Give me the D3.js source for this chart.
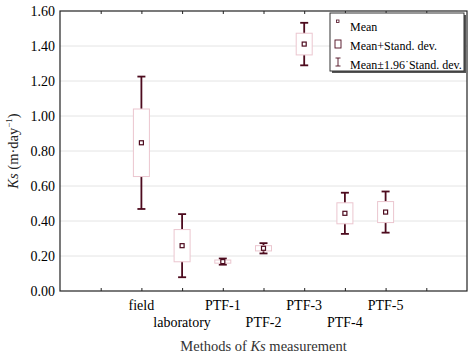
<!DOCTYPE html>
<html><head><meta charset="utf-8">
<script src="https://cdn.jsdelivr.net/npm/d3@7"></script>
<style>
html,body{margin:0;padding:0;background:#fff;}
svg{display:block;}
svg text{font-family:"Liberation Serif","Times New Roman",Times,serif !important;}
</style></head>
<body><svg id="c" width="474" height="358"></svg>
<script>
const categories = ["field","laboratory","PTF-1","PTF-2","PTF-3","PTF-4","PTF-5"];
const means = [0.847, 0.259, 0.168, 0.244, 1.411, 0.444, 0.451];
const sds   = [0.193, 0.092, 0.009, 0.015, 0.062, 0.060, 0.060];
const yTicks = [0,0.2,0.4,0.6,0.8,1.0,1.2,1.4,1.6];
const legendLabels = ["Mean","Mean+Stand. dev.","Mean\u00B11.96\u02D9Stand. dev."];

const W=474,H=358;
const L=60,R=467,T=11,B=291;
const svg=d3.select("#c");
const x=d3.scaleLinear().domain([0,10]).range([L,R]);
const y=d3.scaleLinear().domain([0,1.6]).range([B,T]);
const dark="#4d0b1e", pink="#ebc6cf";

// grid
svg.append("g").selectAll("line").data(yTicks.slice(1,-1)).join("line")
  .attr("x1",L).attr("x2",R).attr("y1",d=>y(d)).attr("y2",d=>y(d))
  .attr("stroke","#e4e4e4").attr("stroke-width",1);

// y axis labels
const ya=svg.append("g").attr("transform",`translate(${L},0)`)
  .call(d3.axisLeft(y).tickValues(yTicks).tickSize(0).tickPadding(5).tickFormat(d3.format(".2f")));
ya.select(".domain").remove();
ya.selectAll("text").attr("font-size",14).attr("fill","#000");

// tick marks top & bottom (inward)
const tickPos=d3.range(1,10);
svg.append("g").attr("transform",`translate(0,${B})`)
  .call(d3.axisBottom(x).tickValues(tickPos).tickSize(-3).tickFormat(""))
  .call(g=>g.select(".domain").remove())
  .selectAll("line").attr("stroke","#222");
svg.append("g").attr("transform",`translate(0,${T})`)
  .call(d3.axisTop(x).tickValues(tickPos).tickSize(-3).tickFormat(""))
  .call(g=>g.select(".domain").remove())
  .selectAll("line").attr("stroke","#222");

// frame
svg.append("rect").attr("x",L).attr("y",T).attr("width",R-L).attr("height",B-T)
  .attr("fill","none").attr("stroke","#222").attr("stroke-width",1.2);

// category labels
svg.append("g").selectAll("text").data(categories).join("text")
  .attr("x",(d,i)=>x(i+2)).attr("y",(d,i)=>i%2===0?310:327)
  .attr("text-anchor","middle").attr("font-size",14).attr("fill","#000").text(d=>d);

// data marks
const boxW=16, capW=8;
const g=svg.append("g");
categories.forEach((c,i)=>{
  const cx=x(i+2), m=means[i], s=sds[i];
  const wl=m-1.96*s, wh=m+1.96*s;
  g.append("line").attr("x1",cx).attr("x2",cx).attr("y1",y(wh)).attr("y2",y(wl))
    .attr("stroke",dark).attr("stroke-width",1.8);
  [wl,wh].forEach(v=>g.append("line").attr("x1",cx-capW/2).attr("x2",cx+capW/2)
    .attr("y1",y(v)).attr("y2",y(v)).attr("stroke",dark).attr("stroke-width",1.8));
  g.append("rect").attr("x",cx-boxW/2).attr("width",boxW)
    .attr("y",y(m+s)).attr("height",Math.max(0,y(m-s)-y(m+s)))
    .attr("fill","#fff").attr("stroke",pink).attr("stroke-width",1);
  g.append("rect").attr("x",cx-2).attr("y",y(m)-2).attr("width",4).attr("height",4)
    .attr("fill","#fff").attr("stroke",dark).attr("stroke-width",1.2);
});

// legend
const lg=svg.append("g");
lg.append("rect").attr("x",332).attr("y",15).attr("width",134).attr("height",58).attr("fill","#555");
lg.append("rect").attr("x",330).attr("y",13).attr("width",134).attr("height",58)
  .attr("fill","#fff").attr("stroke","#333").attr("stroke-width",1);
const rowY=[27,46,65];
lg.selectAll("text").data(legendLabels).join("text")
  .attr("x",350).attr("y",(d,i)=>rowY[i]+4).attr("font-size",12).attr("fill","#000").text(d=>d);
// symbols
lg.append("rect").attr("x",336.5).attr("y",rowY[0]-7).attr("width",2.5).attr("height",2.5)
  .attr("fill","none").attr("stroke",dark).attr("stroke-width",0.8);
lg.append("rect").attr("x",335).attr("y",rowY[1]-6).attr("width",6).attr("height",8)
  .attr("fill","#fff").attr("stroke",dark).attr("stroke-width",0.9);
const ix=338, iy0=rowY[2]-7, iy1=rowY[2]+1;
lg.append("line").attr("x1",ix).attr("x2",ix).attr("y1",iy0).attr("y2",iy1).attr("stroke",dark).attr("stroke-width",0.9);
lg.append("line").attr("x1",ix-2.5).attr("x2",ix+2.5).attr("y1",iy0).attr("y2",iy0).attr("stroke",dark).attr("stroke-width",0.9);
lg.append("line").attr("x1",ix-2.5).attr("x2",ix+2.5).attr("y1",iy1).attr("y2",iy1).attr("stroke",dark).attr("stroke-width",0.9);

// axis titles
const xt=svg.append("text").attr("x",(L+R)/2).attr("y",351).attr("text-anchor","middle")
  .attr("font-size",14.5).attr("fill","#333");
xt.append("tspan").text("Methods of ");
xt.append("tspan").attr("font-style","italic").text("Ks");
xt.append("tspan").text(" measurement");

const yt=svg.append("text").attr("transform",`translate(18,${(T+B)/2}) rotate(-90)`)
  .attr("text-anchor","middle").attr("font-size",14.5).attr("fill","#222");
yt.append("tspan").attr("font-style","italic").text("Ks");
yt.append("tspan").text(" (m\u00B7day");
yt.append("tspan").attr("font-size",9).attr("dy",-6).text("\u22121");
yt.append("tspan").attr("dy",6).text(")");
</script></body></html>
